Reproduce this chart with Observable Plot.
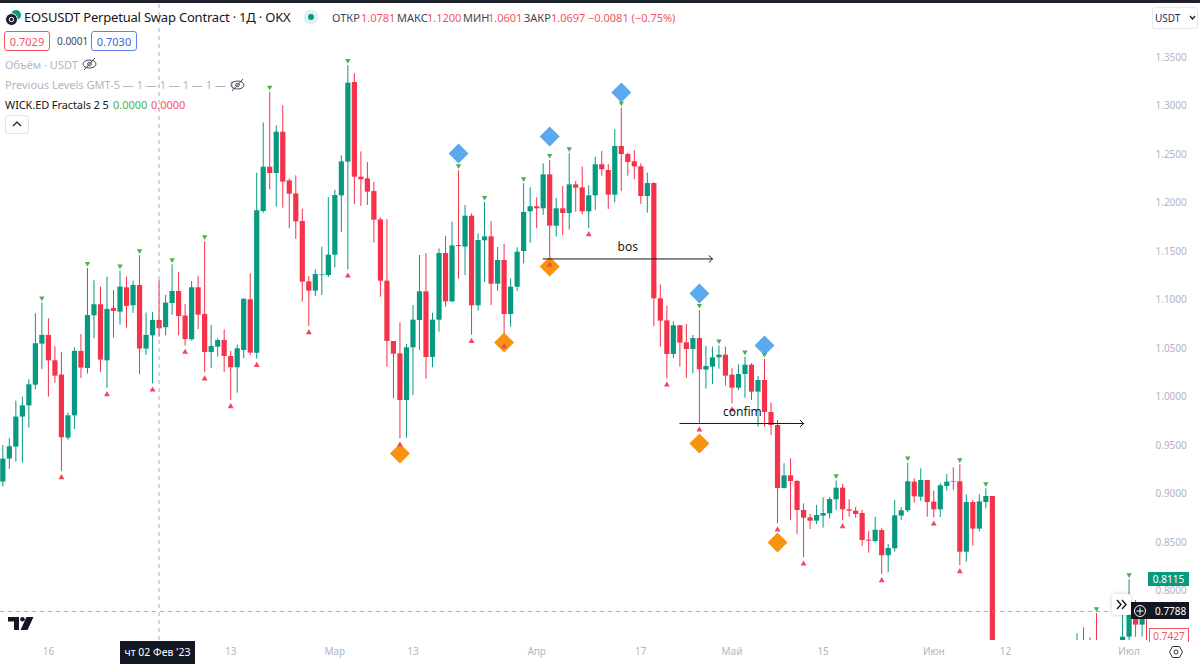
<!DOCTYPE html>
<html><head><meta charset="utf-8">
<script src="https://cdn.jsdelivr.net/npm/d3@7"></script>
<script src="https://cdn.jsdelivr.net/npm/@observablehq/plot@0.6"></script>
<style>
html,body{margin:0;padding:0;background:#fff;width:1200px;height:664px;overflow:hidden;font-family:"Noto Sans",sans-serif}
#wrap{position:relative;width:1200px;height:664px}
#chart svg{display:block}
.t{position:absolute;white-space:nowrap;line-height:1;transform:translateY(-50%)}
.box{position:absolute;box-sizing:border-box;display:flex;align-items:center;justify-content:center;white-space:nowrap;line-height:1}
.abs{position:absolute}
.g{color:#b2b5be}.r{color:#f7525f}.d{color:#434651}
</style></head><body>
<div id="wrap"><div id="chart"></div>
<div class="abs" style="left:0;top:0;width:1200px;height:3px;background:#1e222d"></div>

<svg class="abs" style="left:4px;top:9px" width="18" height="18" viewBox="0 0 18 18"><circle cx="12" cy="6" r="5" fill="#089981"/><circle cx="7.5" cy="10.5" r="6" fill="#1e222d" stroke="#fff" stroke-width="1"/><circle cx="7.5" cy="10.5" r="2.2" fill="none" stroke="#fff" stroke-width="1"/></svg>
<span class="t" style="left:24px;top:17px;font-size:13px;letter-spacing:-.2px;color:#131722" id="title">EOSUSDT Perpetual Swap Contract · 1Д · OKX</span>
<svg class="abs" style="left:303px;top:9px" width="16" height="16"><circle cx="8" cy="8" r="7.5" fill="#e0f2ee"/><circle cx="8" cy="8" r="3" fill="#089981"/></svg>
<span class="t d" style="left:332px;top:17px;font-size:11px">ОТКР</span><span class="t r" style="left:361px;top:17px;font-size:11px">1.0781</span>
<span class="t d" style="left:397px;top:17px;font-size:11px">МАКС</span><span class="t r" style="left:427px;top:17px;font-size:11px">1.1200</span>
<span class="t d" style="left:463px;top:17px;font-size:11px">МИН</span><span class="t r" style="left:488px;top:17px;font-size:11px">1.0601</span>
<span class="t d" style="left:524px;top:17px;font-size:11px">ЗАКР</span><span class="t r" style="left:551px;top:17px;font-size:11px">1.0697</span>
<span class="t r" style="left:588px;top:17px;font-size:11px">−0.0081 (−0.75%)</span>

<div class="box" style="left:4px;top:31px;width:46px;height:20px;border:1px solid #f7525f;border-radius:3px;color:#f7525f;font-size:11px">0.7029</div>
<span class="t" style="left:57px;top:41px;font-size:10px;color:#434651">0.0001</span>
<div class="box" style="left:91px;top:31px;width:46px;height:20px;border:1px solid #5d7ff0;border-radius:3px;color:#3d65e8;font-size:11px">0.7030</div>

<span class="t g" style="left:5px;top:64px;font-size:11px">Объём · USDT</span>
<svg class="abs" style="left:82px;top:57px" width="15" height="14" viewBox="0 0 15 14"><ellipse cx="7.5" cy="7" rx="6.5" ry="4" fill="none" stroke="#434651" stroke-width="1"/><circle cx="7.5" cy="7" r="1.8" fill="none" stroke="#434651"/><path d="M2 13 13 1" stroke="#434651"/></svg>
<span class="t g" style="left:5px;top:84px;font-size:11px">Previous Levels GMT-5 — 1 — 1 — 1 — 1 — 1</span>
<svg class="abs" style="left:230px;top:78px" width="15" height="14" viewBox="0 0 15 14"><ellipse cx="7.5" cy="7" rx="6.5" ry="4" fill="none" stroke="#434651" stroke-width="1"/><circle cx="7.5" cy="7" r="1.8" fill="none" stroke="#434651"/><path d="M2 13 13 1" stroke="#434651"/></svg>
<span class="t" style="left:5px;top:104px;font-size:11px;letter-spacing:-.1px;color:#131722">WICK.ED Fractals 2 5</span>
<span class="t" style="left:113px;top:104px;font-size:11px;color:#4caf50">0.0000</span>
<span class="t r" style="left:151px;top:104px;font-size:11px">0.0000</span>
<div class="abs" style="left:5px;top:115px;width:24px;height:19px;box-sizing:border-box;border:1px solid #e0e3eb;border-radius:3px;background:#fff"></div>
<svg class="abs" style="left:12px;top:120px" width="10" height="8"><path d="M1 6 5 2 9 6" fill="none" stroke="#131722" stroke-width="1.2"/></svg>

<div class="box" style="left:1152px;top:7px;width:46px;height:22px;border:1px solid #e8e9ee;border-radius:3px;background:#fff"></div>
<span class="t" style="left:1155px;top:18px;font-size:10px;color:#2a2e5a">USDT</span>
<svg class="abs" style="left:1189px;top:15px" width="7" height="6"><path d="M1 1 3.5 4 6 1" fill="none" stroke="#131722" stroke-width="1.2"/></svg>

<div class="box" style="left:1148px;top:572px;width:41px;height:14px;background:#089981;color:#fff;font-size:10px">0.8115</div>
<div class="box" style="left:1149px;top:628px;width:40px;height:14px;border:1px solid #f7525f;border-bottom:0;background:#fff;color:#f7525f;font-size:10px">0.7427</div>
<div class="abs" style="left:1131px;top:602px;width:58px;height:17px;background:#131722"></div>
<svg class="abs" style="left:1133px;top:604px" width="14" height="14"><circle cx="7" cy="7" r="5.5" fill="none" stroke="#fff"/><path d="M7 3.5V10.500M3.500 7H10.500" stroke="#fff"/></svg>
<span class="t" style="left:1155px;top:610.500px;font-size:10px;color:#fff">0.7788</span>
<div class="abs" style="left:1112px;top:594px;width:19px;height:21px;background:#fff;border-radius:3px;box-shadow:0 0 4px rgba(0,0,0,.2)"></div>
<svg class="abs" style="left:1116px;top:599px" width="12" height="11"><path d="M1 1 5 5.500 1 10M6 1 10 5.500 6 10" fill="none" stroke="#131722" stroke-width="1.400"/></svg>

<svg class="abs" style="left:8px;top:617px" width="26" height="13" viewBox="0 0 26 13"><path d="M0 0H11V13H6V4.500H0Z" fill="#131722"/><circle cx="14.500" cy="2.300" r="2.300" fill="#131722"/><path d="M18.500 0H25.500L19.500 13H12.500Z" fill="#131722"/></svg>
<div class="box" style="left:120px;top:641px;width:75px;height:23px;background:#131722;color:#fff;font-size:10.500px">чт 02 Фев '23</div>
<svg class="abs" style="left:1169px;top:645px" width="14" height="14" viewBox="0 0 14 14"><path d="M3.500 1.500H10.500L13.500 7 10.500 12.500H3.500L.5 7Z" fill="none" stroke="#2a2e39"/><circle cx="7" cy="7" r="2" fill="none" stroke="#2a2e39"/></svg>
</div>
<script>
const highs=[.9500,.9569,.9958,.9999,1.0177,1.0858,1.0968,1.0806,1.0518,1.0456,
.9834,1.0507,1.0645,1.1325,1.1198,1.1133,1.1236,1.1098,1.1298,1.1236,
1.1195,1.1456,1.0865,1.0872,1.1202,1.1047,1.1363,1.1284,1.0954,1.1191,
1.1243,1.1600,1.0738,1.0600,1.0693,1.0470,1.0535,1.1012,1.1270,1.2307,
1.2826,1.3142,1.2795,1.3002,1.2249,1.2280,1.1936,1.1242,1.1311,1.1545,
1.2057,1.2132,1.2486,1.3417,1.3331,1.2527,1.2417,1.2211,1.1847,1.1826,
1.0572,1.0764,1.0541,1.0943,1.1459,1.1479,1.0864,1.1527,1.1654,1.1802,
1.2331,1.1974,1.1888,1.1682,1.2005,1.1809,1.1541,1.1572,1.1218,1.1538,
1.2197,1.2156,1.2053,1.2404,1.2438,1.2047,1.2170,1.2507,1.2222,1.2370,
1.2177,1.2473,1.2531,1.2394,1.2754,1.2978,1.2514,1.2541,1.2404,1.2308,
1.2208,1.1156,1.0937,1.0775,1.0737,1.0748,1.0634,1.0892,1.0521,1.0514,
1.0524,1.0514,1.0291,1.0332,1.0411,1.0342,1.0211,1.0387,.9937,.9758,
.9311,.9363,.9139,.8899,.8789,.8882,.8961,.8964,.9136,.9098,
.8940,.8864,.8830,.8613,.8761,.8641,.8479,.8933,.8857,.9318,
.9156,.9260,.9139,.9029,.9105,.9201,.9270,.9301,.8992,.8933,
.8992,.9053,.8974,
null,null,null,null,null,null,null,null,null,null,null,null,
.7559,.7620,.7517,.7765,null,null,null,.7800,.8115,.7902,.7760,.7790];
const bodyTops=[.9360,.9487,.9793,.9909,1.0126,1.0549,1.0635,1.0635,1.0373,1.0226,
.9806,1.0470,1.0470,1.0841,1.0951,1.0951,1.0903,1.0913,1.1133,1.1126,
1.1150,1.1150,1.0635,1.0789,1.0789,1.0968,1.1088,1.1088,1.0834,1.1126,
1.1126,1.0851,1.0521,1.0583,1.0583,1.0418,1.0497,1.1008,1.1002,1.1919,
1.2369,1.2369,1.2730,1.2730,1.2228,1.2094,1.1809,1.1187,1.1263,1.1259,
1.1462,1.2077,1.2424,1.3235,1.3242,1.2266,1.2249,1.2118,1.1826,1.1194,
1.0572,1.0445,1.0507,1.0792,1.1084,1.1084,1.0792,1.1479,1.1479,1.1558,
1.1562,1.1864,1.1864,1.1613,1.1651,1.1651,1.1407,1.1407,1.1132,1.1493,
1.1902,1.1961,1.1961,1.2290,1.2290,1.1940,1.1940,1.2187,1.2187,1.2156,
1.2074,1.2394,1.2394,1.2335,1.2583,1.2583,1.2500,1.2425,1.2373,1.2201,
1.2201,1.1012,1.0785,1.0734,1.0734,1.0559,1.0603,1.0603,1.0315,1.0404,
1.0431,1.0431,1.0225,1.0232,1.0328,1.0328,1.0170,1.0170,.9840,.9706,
.9187,.9187,.9129,.8830,.8754,.8778,.8799,.8943,.9060,.9060,
.8837,.8823,.8799,.8524,.8627,.8624,.8438,.8775,.8827,.9126,
.9122,.9139,.9139,.8916,.9084,.9122,.9129,.9126,.8912,.8912,
.8919,.8974,.8974,
null,null,null,null,null,null,null,null,null,null,null,null,
.7300,.7350,.7200,.7300,null,null,null,.7524,.7748,.7750,.7750,.7713];
const bodyBottoms=[.9123,.9360,.9483,.9793,.9909,1.0122,1.0545,1.0373,1.0215,.9580,
.9576,.9806,1.0298,1.0294,1.0837,1.0380,1.0373,1.0882,1.0875,1.0934,
1.0940,1.0494,1.0494,1.0631,1.0703,1.0714,1.0964,1.0830,1.0593,1.0590,
1.0844,1.0459,1.0459,1.0514,1.0418,1.0301,1.0301,1.0479,1.0452,1.0452,
1.1912,1.2304,1.2304,1.2215,1.2091,1.1806,1.1184,1.1091,1.1091,1.1252,
1.1252,1.1462,1.2074,1.2421,1.2266,1.2239,1.2112,1.1823,1.1194,1.0572,
1.0441,.9964,.9964,1.0507,1.0789,1.0407,1.0407,1.0792,1.0981,1.0981,
1.1551,1.1545,1.0940,1.0940,1.1610,1.1163,1.1163,1.0850,1.0850,1.1132,
1.1500,1.1909,1.1940,1.1940,1.1761,1.1761,1.1892,1.1892,1.2153,1.1909,
1.1909,1.2074,1.2342,1.2081,1.2081,1.2500,1.2418,1.2373,1.2067,1.2067,
1.1012,1.0782,1.0438,1.0438,1.0555,1.0490,1.0490,1.0280,1.0277,1.0308,
1.0404,1.0215,1.0091,1.0091,1.0232,1.0050,1.0050,.9840,.9706,.9057,
.9057,.9129,.8830,.8751,.8720,.8720,.8772,.8796,.8940,.8837,
.8823,.8789,.8521,.8514,.8510,.8363,.8363,.8435,.8772,.8827,
.8971,.8967,.8912,.8837,.8837,.9077,.9122,.8400,.8400,.8638,
.8638,.8912,.7000,
null,null,null,null,null,null,null,null,null,null,null,null,
.7150,.7150,.7050,.7100,null,null,null,.7200,.7524,.7648,.7648,.7029];
const lows=[.9071,.9253,.9329,.9318,.9679,1.0074,1.0284,.9999,1.0143,.9232,
.9552,.9665,1.0191,1.0236,1.0600,1.0253,1.0088,1.0607,1.0741,1.0710,
1.0861,1.0229,1.0428,1.0136,1.0617,1.0631,1.0841,1.0631,1.0525,1.0576,
1.0696,1.0250,1.0294,1.0411,1.0253,.9964,1.0040,1.0397,1.0428,1.0390,
1.1895,1.2136,1.1957,1.1947,1.1734,1.1624,1.0978,1.0727,1.1036,1.1046,
1.1232,1.1331,1.1696,1.1311,1.1984,1.1964,1.1974,1.1586,1.1029,1.0307,
.9981,.9569,.9576,1.0015,1.0479,1.0184,1.0301,1.0668,1.0926,1.0975,
1.1215,1.1252,1.0637,1.0885,1.1180,1.0943,1.1091,1.0582,1.0720,1.1087,
1.1373,1.1586,1.1734,1.1871,1.1425,1.1648,1.1665,1.1720,1.1906,1.1878,
1.1737,1.1923,1.2277,1.1933,1.2002,1.2119,1.2277,1.2239,1.1985,1.1895,
1.0727,1.0514,1.0187,1.0394,1.0308,1.0194,1.0239,.9724,1.0081,1.0129,
1.0287,1.0112,.9930,1.0067,.9988,.9964,.9689,.9689,.9603,.8693,
.9050,.8727,.8583,.8342,.8634,.8686,.8648,.8744,.8830,.8727,
.8761,.8751,.8459,.8390,.8493,.8170,.8191,.8400,.8727,.8809,
.8906,.8923,.8761,.8754,.8758,.9029,.9036,.8263,.8297,.8462,
.8607,.8847,.6950,
null,null,null,null,null,null,null,null,null,null,null,null,
.7100,.7100,.7000,.7050,null,null,null,.7150,.7350,.7524,.7524,.6950];
const directions="GGGGGGGRRR"+"GGRGGRGRGR"+"GRGGRGGRRG"+"RRGGRRGGRG"+"GRGRRRRRGG"+"GGGGRRRRRR"+"RRGGGRGGRG"+"RGRGGRGRGG"+"GGRGRGRGRR"+"GGRRGRRRRG"+"RRRGRRGRGG"+"GRRGGRGRRR"+"GRRRRGGGGR"+"RRRRGRGGGG"+"RGRRGGRRGR"+"GGR"+"............"+"GRRR"+"..."+"GGRGR";

const fractalHighDays=[6,13,18,21,26,31,41,53,70,74,80,84,87,95,107,110,114,117,128,139,147,151,168,173];
const fractalLowDays=[9,16,23,28,31,35,39,47,53,61,72,77,84,90,102,107,112,119,123,129,135,143,147];
const blueDays=[70,84,95,107,117];
const bluePrices=[1.2510,1.2686,1.3139,1.1067,1.0531];
const orangeDays=[61,77,84,107,119];
const orangePrices=[.9418,1.0562,1.1345,.9521,.8500];
const arrowStarts=[83,104];
const arrowEnds=[109,123];
const arrowPrices=[1.1423,.9727];
const noteTexts=["bos","confim"];
const noteDays=[96,113.6];
const notePrices=[1.1531,.9830];
const tickDays=[7,35,51,63,82,98,112,126,143,154,173];
const tickLabels=["16","13","Мар","13","Апр","17","Май","15","Июн","12","Июл"];
const priceTicks=[.8,.85,.9,.95,1,1.05,1.1,1.15,1.2,1.25,1.3,1.35];
const crossDay=24, crossPrice=.7788;

const GREEN="#089981", RED="#f53249";
const candles=d3.range(highs.length).filter(i=>highs[i]!=null).map(i=>({i,h:highs[i],t:bodyTops[i],b:bodyBottoms[i],l:lows[i],dir:directions[i]}));
const up=candles.filter(d=>d.dir==="G"), down=candles.filter(d=>d.dir==="R");
const wick=(a,c)=>Plot.ruleX(a,{x:"i",y1:"l",y2:"h",stroke:c,strokeWidth:1,clip:true});
const body=(a,c)=>Plot.ruleX(a,{x:"i",y1:"b",y2:"t",stroke:c,strokeWidth:5.2,clip:true});
const zip=(xs,ys)=>xs.map((x,k)=>({x,y:ys[k]}));

const plot=Plot.plot({
  width:1200,height:664,marginTop:0,marginBottom:24,marginLeft:0,marginRight:53,
  style:{fontFamily:'"Noto Sans",sans-serif',fontSize:"10px",background:"#fff",overflow:"visible"},
  x:{type:"linear",domain:[-0.358,175.83],range:[0,1147]},
  y:{type:"linear",domain:[0.74897,1.40876],range:[640,0]},
  marks:[
    Plot.axisY({anchor:"right",ticks:priceTicks,tickSize:0,tickPadding:8,tickFormat:d3.format(".4f"),label:null,color:"#b2b5be",fontSize:10}),
    Plot.axisX({anchor:"bottom",ticks:tickDays,tickSize:0,tickPadding:7,tickFormat:d=>tickLabels[tickDays.indexOf(d)],label:null,color:"#b2b5be",fontSize:10}),
    wick(up,GREEN),wick(down,RED),body(up,GREEN),body(down,RED),
    Plot.ruleX([crossDay],{stroke:"#9598a1",strokeWidth:1,strokeDasharray:"4 4",strokeOpacity:.8,y1:.749,y2:1.4088}),
    Plot.ruleY([crossPrice],{stroke:"#9598a1",strokeWidth:1,strokeDasharray:"4 4",strokeOpacity:.8,x1:-.358,x2:175.83}),
    Plot.dot(zip(blueDays,bluePrices),{x:"x",y:"y",symbol:"diamond2",r:9,fill:"#5aa9ee",stroke:"none",clip:true}),
    Plot.dot(zip(orangeDays,orangePrices),{x:"x",y:"y",symbol:"diamond2",r:9,fill:"#f7930e",stroke:"none",clip:true}),
    Plot.dot(fractalHighDays,{x:d=>d,y:d=>highs[d],dy:-5,symbol:"triangle",rotate:180,r:2,fill:"#4caf50",stroke:"none",clip:true}),
    Plot.dot(fractalLowDays,{x:d=>d,y:d=>lows[d],dy:6,symbol:"triangle",r:2.2,fill:"#f5475a",stroke:"none",clip:true}),
    Plot.arrow(arrowStarts.map((s,k)=>({s,e:arrowEnds[k],p:arrowPrices[k]})),{x1:"s",x2:"e",y1:"p",y2:"p",stroke:"#131722",strokeWidth:1,headAngle:90,headLength:7,bend:0}),
    Plot.text(noteTexts,{x:(d,k)=>noteDays[k],y:(d,k)=>notePrices[k]+.001,text:d=>d,fill:"#131722",fontSize:12})
  ]
});
document.getElementById("chart").append(plot);
</script></body></html>
